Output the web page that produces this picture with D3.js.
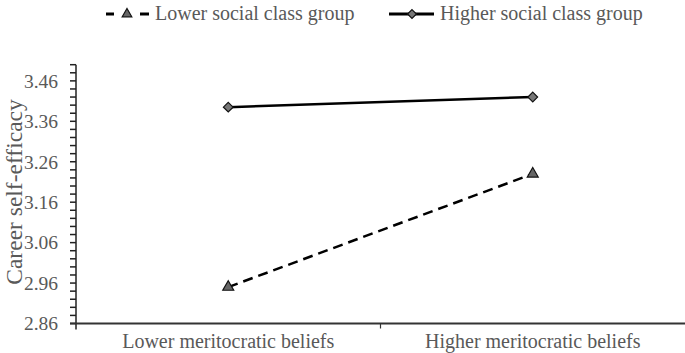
<!DOCTYPE html>
<html><head><meta charset="utf-8">
<script src="https://cdn.jsdelivr.net/npm/d3@7"></script>
<style>body{margin:0;background:#fff}svg{display:block}text{font-family:"Liberation Serif","Times New Roman",serif;fill:#595959}</style>
</head><body><svg id="c" width="685" height="353"></svg>
<script>
const categories = ["Lower meritocratic beliefs", "Higher meritocratic beliefs"];
const seriesNames = ["Lower social class group", "Higher social class group"];
const lowerValues = [2.95, 3.23];
const higherValues = [3.395, 3.42];
const yTickLabels = [2.86, 2.96, 3.06, 3.16, 3.26, 3.36, 3.46];
const yMinorTicks = d3.range(0, 33).map(i => +(2.86 + i * 0.02).toFixed(2));

(function(){
const svg = d3.select("#c");
const pl = 76, pr = 685, pt = 64.7, pb = 323.5;
const x = d3.scaleBand().domain(categories).range([pl, pr]);
const y = d3.scaleLinear().domain([2.86, 3.50]).range([pb, pt]);

// y axis
const ya = svg.append("g").attr("transform", `translate(${pl},0)`);
ya.append("line").attr("x1", 0).attr("x2", 0).attr("y1", pt).attr("y2", pb + 6).attr("stroke", "#222").attr("stroke-width", 1.5);
ya.selectAll("line.t").data(yMinorTicks).join("line").attr("class","t")
  .attr("x1", -6).attr("x2", 0).attr("y1", d => y(d)).attr("y2", d => y(d)).attr("stroke", "#222").attr("stroke-width", 1.5);
ya.selectAll("text").data(yTickLabels).join("text")
  .attr("x", -18).attr("y", d => y(d)).attr("dy", "0.35em").attr("text-anchor", "end")
  .style("font-size", "19.5px").text(d => d.toFixed(2));

// x axis
svg.append("line").attr("x1", pl - 6).attr("x2", pr).attr("y1", pb).attr("y2", pb).attr("stroke", "#333").attr("stroke-width", 2);
svg.append("line").attr("x1", x(categories[1])).attr("x2", x(categories[1])).attr("y1", pb).attr("y2", pb + 5).attr("stroke", "#333").attr("stroke-width", 1.2);
svg.selectAll("text.cat").data(categories).join("text").attr("class","cat")
  .attr("x", d => x(d) + x.bandwidth()/2).attr("y", 348).attr("text-anchor", "middle")
  .style("font-size", "20px").text(d => d);

// y title
svg.append("text").attr("transform", `translate(21.5,192) rotate(-90)`).attr("text-anchor", "middle")
  .style("font-size", "23.5px").text("Career self-efficacy");

const cx = d => x(d) + x.bandwidth()/2;
const line = d3.line().x(d => cx(d.c)).y(d => y(d.v));
const lowData = categories.map((c,i) => ({c, v: lowerValues[i]}));
const highData = categories.map((c,i) => ({c, v: higherValues[i]}));

svg.append("path").datum(highData).attr("d", line).attr("fill","none").attr("stroke","#000").attr("stroke-width",2.5);
svg.append("path").datum(lowData).attr("d", line).attr("fill","none").attr("stroke","#000").attr("stroke-width",2.5).attr("stroke-dasharray","10,6");

const diamond = d3.symbol().type(d3.symbolDiamond2).size(60);
const tri = d3.symbol().type(d3.symbolTriangle).size(52);
svg.selectAll("path.hm").data(highData).join("path").attr("class","hm")
  .attr("transform", d => `translate(${cx(d.c)},${y(d.v)})`).attr("d", diamond)
  .attr("fill", "#777").attr("stroke", "#111").attr("stroke-width", 1.2);
svg.selectAll("path.lm").data(lowData).join("path").attr("class","lm")
  .attr("transform", d => `translate(${cx(d.c)},${y(d.v)})`).attr("d", tri)
  .attr("fill", "#666").attr("stroke", "#111").attr("stroke-width", 1.2);

// legend
const ly = 14;
const lg = svg.append("g");
lg.append("line").attr("x1",106).attr("x2",114).attr("y1",ly).attr("y2",ly).attr("stroke","#000").attr("stroke-width",3);
lg.append("line").attr("x1",140).attr("x2",149).attr("y1",ly).attr("y2",ly).attr("stroke","#000").attr("stroke-width",3);
lg.append("path").attr("transform",`translate(127,${ly})`).attr("d", d3.symbol().type(d3.symbolTriangle).size(40)).attr("fill","#666").attr("stroke","#111").attr("stroke-width",1.2);
lg.append("text").attr("x",155).attr("y",ly).attr("dy","0.32em").style("font-size","20px").text(seriesNames[0]);
lg.append("line").attr("x1",389).attr("x2",434).attr("y1",ly).attr("y2",ly).attr("stroke","#000").attr("stroke-width",3);
lg.append("path").attr("transform",`translate(412,${ly})`).attr("d", d3.symbol().type(d3.symbolDiamond2).size(50)).attr("fill","#777").attr("stroke","#111").attr("stroke-width",1.2);
lg.append("text").attr("x",440).attr("y",ly).attr("dy","0.32em").style("font-size","20px").text(seriesNames[1]);
})();
</script></body></html>
